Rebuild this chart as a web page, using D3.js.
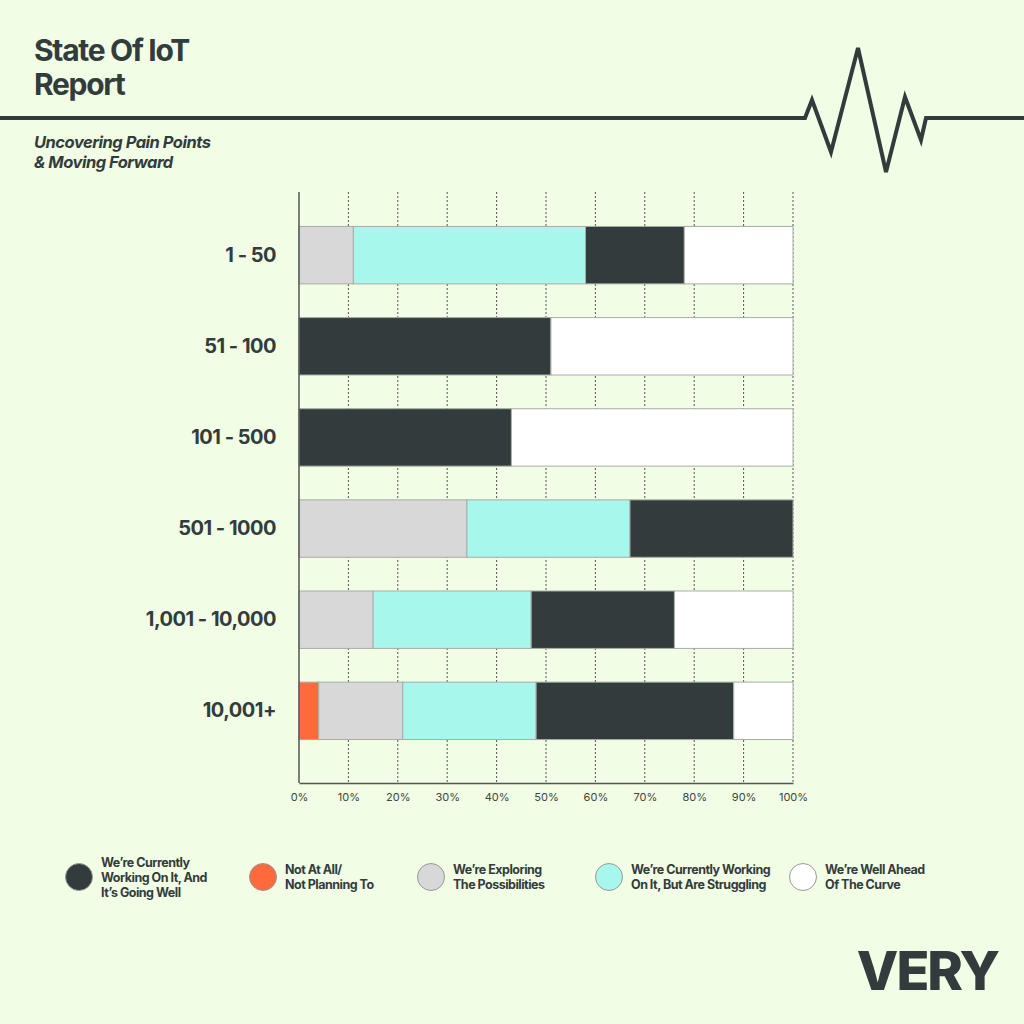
<!DOCTYPE html>
<html><head><meta charset="utf-8">
<script src="https://cdn.jsdelivr.net/npm/d3@7"></script>
<style>body{margin:0;background:#f1fde4;font-family:Inter,"Liberation Sans",sans-serif}</style>
</head><body>
<script>
// company size categories and share of answers (%) per status
const categories = ["1 - 50", "51 - 100", "101 - 500", "501 - 1000", "1,001 - 10,000", "10,001+"];
const notAtAll   = [0, 0, 0, 0, 0, 4];
const exploring  = [11, 0, 0, 34, 15, 17];
const struggling = [47, 0, 0, 33, 32, 27];
const goingWell  = [20, 51, 43, 33, 29, 40];
const wellAhead  = [22, 49, 57, 0, 24, 12];
const ticks = [0, 10, 20, 30, 40, 50, 60, 70, 80, 90, 100];

const series = [
  { key: "notAtAll", values: notAtAll, color: "#ff6a3d" },
  { key: "exploring", values: exploring, color: "#d8d8d8" },
  { key: "struggling", values: struggling, color: "#a8f7ec" },
  { key: "goingWell", values: goingWell, color: "#323c3c" },
  { key: "wellAhead", values: wellAhead, color: "#ffffff" }
];
const legend = [
  { lines: ["We’re Currently", "Working On It, And", "It’s Going Well"], color: "#323c3c" },
  { lines: ["Not At All/", "Not Planning To"], color: "#ff6a3d" },
  { lines: ["We’re Exploring", "The Possibilities"], color: "#d8d8d8" },
  { lines: ["We’re Currently Working", "On It, But Are Struggling"], color: "#a8f7ec" },
  { lines: ["We’re Well Ahead", "Of The Curve"], color: "#ffffff" }
];

const dark = "#323c3c";
const svg = d3.select("body").append("svg").attr("width", 1024).attr("height", 1024);
svg.append("rect").attr("width", 1024).attr("height", 1024).attr("fill", "#f1fde4");

// header
svg.append("text").attr("x", 34).attr("y", 61).attr("font-size", 30).attr("font-weight", 700)
  .attr("fill", dark).attr("letter-spacing", -1.3).text("State Of IoT");
svg.append("text").attr("x", 34).attr("y", 95).attr("font-size", 30).attr("font-weight", 700)
  .attr("fill", dark).attr("letter-spacing", -1.3).text("Report");
svg.append("path").attr("fill", "none").attr("stroke", dark).attr("stroke-width", 4)
  .attr("d", d3.line()([[0,118],[805,118],[812,100],[831,152],[858,48],[886,172],[905,97],[921,140],[926,118],[1024,118]]));
svg.append("text").attr("x", 34).attr("y", 148).attr("font-size", 16.5).attr("font-weight", 700)
  .attr("font-style", "italic").attr("fill", dark).attr("letter-spacing", -0.5).text("Uncovering Pain Points");
svg.append("text").attr("x", 34).attr("y", 168).attr("font-size", 16.5).attr("font-weight", 700)
  .attr("font-style", "italic").attr("fill", dark).attr("letter-spacing", -0.5).text("& Moving Forward");

// chart
const x = d3.scaleLinear().domain([0, 100]).range([299, 793]);
const y = d3.scaleBand().domain(categories).range([190, 776]).paddingInner(0.37).paddingOuter(0.4);

const g = svg.append("g");
g.selectAll(".grid").data(ticks.slice(1)).join("line")
  .attr("x1", d => x(d)).attr("x2", d => x(d)).attr("y1", 192).attr("y2", 783)
  .attr("stroke", "#555").attr("stroke-width", 1).attr("stroke-dasharray", "2,2");

const stack = d3.stack().keys(series.map(s => s.key))(
  categories.map((c, i) => Object.fromEntries([["cat", c], ...series.map(s => [s.key, s.values[i]])])));
stack.forEach((layer, si) => {
  g.selectAll(null).data(layer.filter(d => d[1] > d[0])).join("rect")
    .attr("x", d => x(d[0])).attr("width", d => x(d[1]) - x(d[0]))
    .attr("y", d => y(d.data.cat)).attr("height", y.bandwidth())
    .attr("fill", series[si].color).attr("stroke", "#a9aca6").attr("stroke-width", 1);
});

// axes
const xAxis = g.append("g").attr("transform", "translate(0,783)")
  .call(d3.axisBottom(x).tickValues(ticks).tickFormat(d => d + "%").tickSize(0).tickPadding(10));
xAxis.select(".domain").attr("stroke", "#555").attr("stroke-width", 1.5);
xAxis.selectAll("text").attr("font-size", 11).attr("fill", "#444").attr("font-family", "Inter, sans-serif");
g.append("line").attr("x1", 299).attr("x2", 299).attr("y1", 192).attr("y2", 783)
  .attr("stroke", "#555").attr("stroke-width", 1.5);

const yAxis = g.append("g").attr("transform", "translate(276,0)")
  .call(d3.axisLeft(y).tickSize(0).tickPadding(0));
yAxis.select(".domain").remove();
yAxis.selectAll("text").attr("font-size", 20).attr("font-weight", 700).attr("fill", dark)
  .attr("font-family", "Inter, sans-serif").attr("letter-spacing", -0.5);

// legend
const lx = [79, 263, 431, 609, 803];
legend.forEach((l, i) => {
  const lg = svg.append("g").attr("transform", `translate(${lx[i]},877)`);
  lg.append("circle").attr("r", 13.5).attr("fill", l.color).attr("stroke", "#999").attr("stroke-width", 1);
  const n = l.lines.length;
  l.lines.forEach((t, j) => {
    lg.append("text").attr("x", 22).attr("y", (j - (n - 1) / 2) * 15 + 4.5)
      .attr("font-size", 12.5).attr("font-weight", 700).attr("fill", dark).attr("letter-spacing", -0.5).text(t);
  });
});

// logo
svg.append("text").attr("x", 998).attr("y", 990).attr("text-anchor", "end")
  .attr("font-size", 54).attr("font-weight", 800).attr("fill", dark).attr("letter-spacing", -2).text("VERY");
</script>
</body></html>
